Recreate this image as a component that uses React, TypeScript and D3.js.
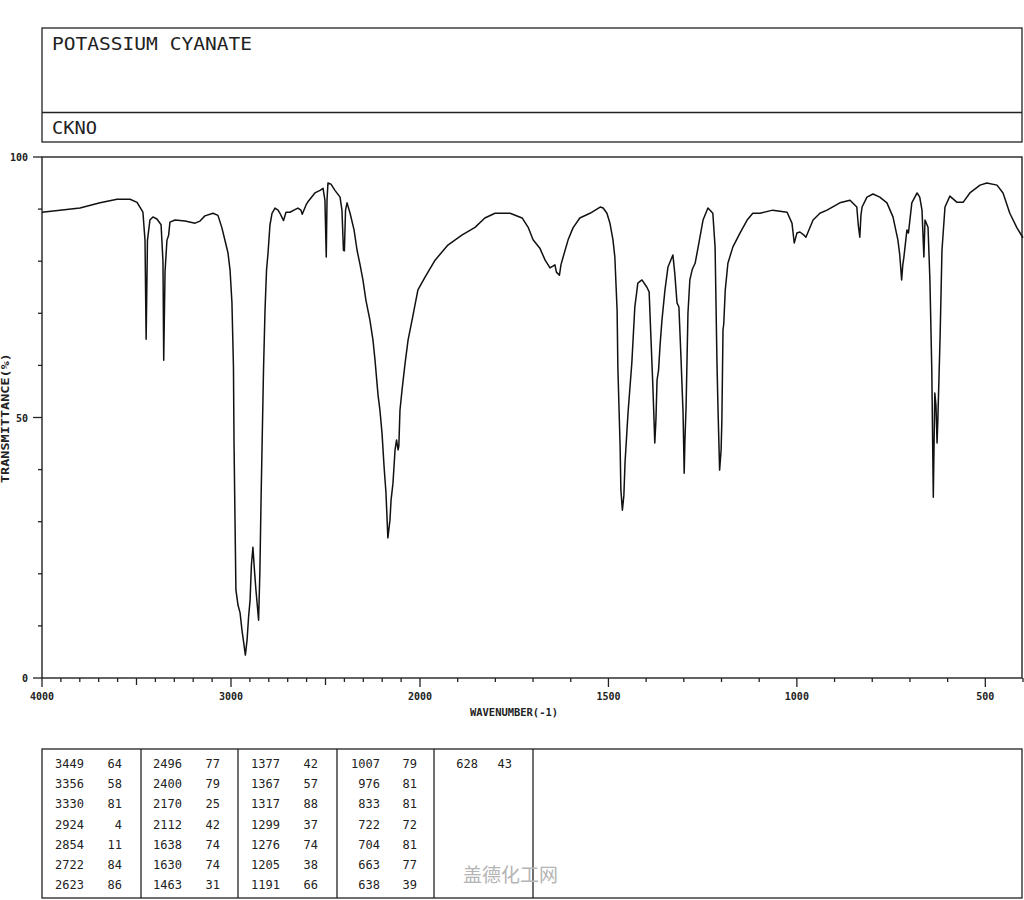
import React from "react";
import * as d3 from "d3";

const titleText = "POTASSIUM CYANATE";
const formulaText = "CKNO";

const wavenumbers = [
  4000, 3905, 3799, 3693, 3603, 3534, 3497, 3466, 3455, 3449, 3442, 3429, 3413, 3392, 3370, 3360, 3356, 3349, 3339, 3330,
  3323, 3296, 3243, 3190, 3164, 3138, 3095, 3069, 3048, 3026, 3016, 3005, 2995, 2987, 2984, 2979, 2974, 2963, 2952, 2942,
  2931, 2924, 2915, 2907, 2899, 2892, 2884, 2876, 2868, 2854, 2847, 2841, 2836, 2831, 2828, 2820, 2812, 2804, 2794, 2783,
  2767, 2751, 2741, 2722, 2709, 2688, 2667, 2646, 2630, 2623, 2603, 2593, 2556, 2529, 2513, 2503, 2496, 2492, 2487, 2471,
  2450, 2423, 2413, 2405, 2400, 2394, 2386, 2370, 2349, 2333, 2317, 2302, 2286, 2265, 2249, 2238, 2222, 2212, 2201, 2190,
  2180, 2170, 2159, 2153, 2143, 2132, 2124, 2116, 2112, 2106, 2095, 2079, 2063, 2042, 2011, 1987, 1960, 1926, 1889, 1854,
  1828, 1801, 1761, 1729, 1713, 1700, 1682, 1668, 1655, 1642, 1638, 1630, 1626, 1621, 1607, 1594, 1576, 1549, 1522, 1514,
  1504, 1496, 1488, 1483, 1477, 1475, 1469, 1467, 1463, 1459, 1456, 1448, 1438, 1430, 1422, 1411, 1398, 1392, 1387, 1382,
  1377, 1374, 1371, 1367, 1363, 1358, 1350, 1342, 1329, 1324, 1318, 1313, 1308, 1302, 1299, 1297, 1294, 1289, 1284, 1278,
  1276, 1270, 1262, 1249, 1236, 1223, 1217, 1212, 1209, 1205, 1201, 1199, 1196, 1194, 1190, 1183, 1170, 1151, 1132, 1117,
  1098, 1064, 1026, 1013, 1007, 1005, 1000, 992, 981, 976, 957, 939, 920, 886, 859, 841, 837, 833, 830, 827,
  814, 798, 780, 761, 745, 732, 727, 722, 719, 716, 708, 704, 695, 681, 674, 668, 663, 660, 652, 647,
  642, 638, 634, 631, 628, 626, 620, 615, 607, 594, 575, 559, 541, 514, 496, 469, 453, 435, 416, 400,
];

const transmittance = [
  89.4, 89.8, 90.2, 91.2, 91.9, 91.9, 91.3, 89.4, 84, 65, 84, 87.9, 88.5, 88.1, 87, 80, 61, 78, 84, 85,
  87.5, 87.9, 87.7, 87.3, 87.7, 88.7, 89.2, 88.8, 86.4, 83.1, 81.6, 78.3, 72, 59.7, 45.1, 30.9, 16.9, 14, 12.5, 9.2,
  6.3, 4.4, 7.3, 11.7, 15, 21.7, 25.1, 20.7, 16.9, 11.1, 20.7, 34.2, 43.8, 53.3, 59.1, 70.6, 78.3, 81.6, 86.9, 89.2,
  90.2, 89.8, 89.2, 87.8, 89.4, 89.4, 89.8, 90.2, 89.8, 89, 90.8, 91.4, 93.1, 93.6, 94, 91.7, 80.8, 91.7, 95, 94.8,
  93.6, 92.3, 89.8, 82.1, 82, 89.8, 91.2, 89.2, 86, 82.1, 79.3, 76.4, 72.5, 68.7, 64.9, 61, 54.3, 51.4, 47, 40.5,
  35.5, 26.9, 30.3, 34.2, 37.4, 43.8, 45.7, 43.8, 44.5, 51.4, 55.3, 60.4, 64.9, 68.7, 74.5, 76.9, 80.2, 83.1, 85, 86.5,
  88.3, 89.2, 89.2, 88.3, 86.5, 84.1, 82.5, 80.2, 78.7, 79.3, 77.9, 77.3, 79.3, 80.6, 84.1, 86.4, 88.3, 89.2, 90.4, 90.2,
  89.2, 87.3, 84.1, 80.8, 70.6, 59.7, 44.3, 36.1, 32.2, 35.1, 41.3, 50.9, 60.4, 71.2, 75.8, 76.4, 75, 74.1, 64.9, 55.8,
  45.1, 49.5, 57.2, 59.1, 63.9, 68.7, 74.5, 78.9, 81.2, 77.7, 72, 71.2, 62.4, 50.9, 39.3, 45.7, 52, 70, 76.4, 78.3,
  78.7, 79.6, 82.7, 87.9, 90.2, 89.2, 82.7, 60.4, 50.9, 39.9, 43.8, 49.5, 66.8, 68, 74.5, 79.6, 82.7, 85.4, 87.9, 89.2,
  89.2, 89.8, 89.4, 87.3, 83.5, 84, 85.4, 85.6, 85, 84.6, 87.9, 89.2, 89.8, 91.2, 91.7, 90.4, 86.9, 84.6, 88.8, 90.4,
  92.3, 92.9, 92.3, 91.2, 88.5, 84.1, 81.2, 76.4, 79.3, 80.8, 86, 85.4, 91.2, 93.1, 92.3, 89.8, 80.8, 87.9, 86.5, 76.4,
  59.1, 34.7, 54.7, 52.4, 45.1, 49.5, 65.4, 82.1, 90.4, 92.5, 91.3, 91.3, 93.1, 94.6, 95, 94.6, 93.1, 89.2, 86.4, 84.5,
];

const xTickLabels = [4000, 3000, 2000, 1500, 1000, 500];
const yTickLabels = [0, 50, 100];

const peakCol1Wn = ["3449", "3356", "3330", "2924", "2854", "2722", "2623"];
const peakCol1T = ["64", "58", "81", "4", "11", "84", "86"];
const peakCol2Wn = ["2496", "2400", "2170", "2112", "1638", "1630", "1463"];
const peakCol2T = ["77", "79", "25", "42", "74", "74", "31"];
const peakCol3Wn = ["1377", "1367", "1317", "1299", "1276", "1205", "1191"];
const peakCol3T = ["42", "57", "88", "37", "74", "38", "66"];
const peakCol4Wn = ["1007", "976", "833", "722", "704", "663", "638"];
const peakCol4T = ["79", "81", "81", "72", "81", "77", "39"];
const peakCol5Wn = ["628"];
const peakCol5T = ["43"];

const peakColumns = [
  [peakCol1Wn, peakCol1T],
  [peakCol2Wn, peakCol2T],
  [peakCol3Wn, peakCol3T],
  [peakCol4Wn, peakCol4T],
  [peakCol5Wn, peakCol5T],
];

const LEFT = 42;
const RIGHT = 1022;
const TOP = 157;
const BOTTOM = 678;

export default function App() {
  const x = d3.scaleLinear().domain([4000, 2000, 400]).range([LEFT, 420, 1023]);
  const y = d3.scaleLinear().domain([0, 100]).range([BOTTOM, TOP]);

  const pts: [number, number][] = wavenumbers.map((w, i) => [w, transmittance[i]]);
  const line = d3
    .line<[number, number]>()
    .x((d) => x(d[0]))
    .y((d) => y(d[1]));

  const xTicks = d3.range(4000, 399, -100);
  const yTicks = d3.range(0, 101, 10);

  const xTickLen = (v: number) => {
    if (v % 1000 === 0) return 9;
    if (v <= 2000 && v % 500 === 0) return 9;
    if (v % 500 === 0) return 7;
    return 4;
  };

  const colX = [42, 141, 238, 337, 434, 533];
  const wnRight = [84, 182, 280, 380, 478];
  const tRight = [122, 220, 318, 417, 512];
  const rowY0 = 768;
  const rowStep = 20.2;

  const mono = "'DejaVu Sans Mono', 'Liberation Mono', monospace";

  return (
    <svg
      width={1024}
      height={900}
      style={{ position: "absolute", left: 0, top: 0, background: "#fff" }}
    >
      <rect x={0} y={0} width={1024} height={900} fill="#fff" />
      {/* header boxes */}
      <rect x={42} y={28} width={980} height={114} fill="none" stroke="#222" strokeWidth={1.3} />
      <line x1={42} x2={1022} y1={112.5} y2={112.5} stroke="#222" strokeWidth={1.6} />
      <text x={52} y={50} fontFamily={mono} fontSize={18} fill="#222" textLength={200} lengthAdjust="spacingAndGlyphs">
        {titleText}
      </text>
      <text x={52} y={134} fontFamily={mono} fontSize={18} fill="#222" textLength={45} lengthAdjust="spacingAndGlyphs">
        {formulaText}
      </text>

      {/* plot frame */}
      <rect x={LEFT} y={TOP} width={RIGHT - LEFT} height={BOTTOM - TOP} fill="none" stroke="#222" strokeWidth={1.4} />

      {/* y ticks */}
      {yTicks.map((v) => {
        const major = v % 50 === 0;
        return (
          <line
            key={"yt" + v}
            x1={LEFT - (major ? 9 : 4)}
            x2={LEFT}
            y1={y(v)}
            y2={y(v)}
            stroke="#222"
            strokeWidth={1.3}
          />
        );
      })}
      {yTickLabels.map((v) => (
        <text
          key={"yl" + v}
          x={28}
          y={y(v) + 4}
          textAnchor="end"
          fontFamily={mono}
          fontWeight="bold"
          fontSize={10}
          fill="#222"
        >
          {v}
        </text>
      ))}

      {/* x ticks */}
      {xTicks.map((v) => (
        <line
          key={"xt" + v}
          x1={x(v)}
          x2={x(v)}
          y1={BOTTOM}
          y2={BOTTOM + xTickLen(v)}
          stroke="#222"
          strokeWidth={1.3}
        />
      ))}
      {xTickLabels.map((v) => (
        <text
          key={"xl" + v}
          x={x(v)}
          y={700}
          textAnchor="middle"
          fontFamily={mono}
          fontWeight="bold"
          fontSize={10}
          fill="#222"
        >
          {v}
        </text>
      ))}

      <text
        x={514}
        y={716}
        textAnchor="middle"
        fontFamily={mono}
        fontWeight="bold"
        fontSize={10}
        fill="#222"
        textLength={88}
        lengthAdjust="spacingAndGlyphs"
      >
        WAVENUMBER(-1)
      </text>
      <text
        transform={`translate(9, ${418}) rotate(-90)`}
        textAnchor="middle"
        fontFamily={mono}
        fontWeight="bold"
        fontSize={10}
        fill="#222"
        textLength={130}
        lengthAdjust="spacingAndGlyphs"
      >
        TRANSMITTANCE(%)
      </text>

      {/* spectrum */}
      <path d={line(pts) || ""} fill="none" stroke="#111" strokeWidth={1.5} strokeLinejoin="round" />

      {/* peak table */}
      <rect x={42} y={749} width={980} height={149} fill="none" stroke="#222" strokeWidth={1.3} />
      {colX.slice(1).map((cx, i) => (
        <line key={"cd" + i} x1={cx} x2={cx} y1={749} y2={898} stroke="#222" strokeWidth={1.3} />
      ))}
      {peakColumns.map(([wns, ts], ci) =>
        wns.map((w, ri) => (
          <g key={`p${ci}-${ri}`}>
            <text
              x={wnRight[ci]}
              y={rowY0 + ri * rowStep}
              textAnchor="end"
              fontFamily={mono}
              fontSize={12}
              fill="#222"
            >
              {w}
            </text>
            <text
              x={tRight[ci]}
              y={rowY0 + ri * rowStep}
              textAnchor="end"
              fontFamily={mono}
              fontSize={12}
              fill="#222"
            >
              {ts[ri]}
            </text>
          </g>
        ))
      )}
      <text
        x={463}
        y={882}
        fontFamily="'Noto Sans CJK SC', sans-serif"
        fontSize={19}
        fill="#b5b5b5"
      >
        盖德化工网
      </text>
    </svg>
  );
}
